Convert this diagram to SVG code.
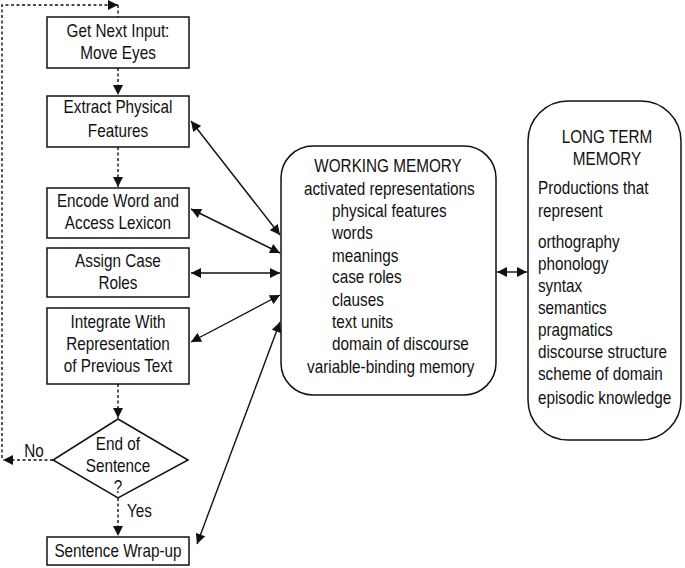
<svg xmlns="http://www.w3.org/2000/svg" width="685" height="568" viewBox="0 0 685 568">
<style>
text{font-family:"Liberation Sans",Arial,sans-serif;font-size:18px;fill:#111}
.c{text-anchor:middle}
.box{fill:#fff;stroke:#111;stroke-width:1.5}
.ln{fill:none;stroke:#111;stroke-width:1.4}
.d{stroke-dasharray:3 2.5}
</style>
<defs>
<marker id="ah" viewBox="0 0 10 10" refX="10" refY="5" markerWidth="11" markerHeight="10" markerUnits="userSpaceOnUse" orient="auto-start-reverse"><path d="M0,0 L10,5 L0,10 Z" fill="#111"/></marker>
</defs>
<rect width="685" height="568" fill="#fff"/>
<g id="connectors">
<path class="ln d" d="M118,68 V95" marker-end="url(#ah)"/>
<path class="ln d" d="M118,147 V187" marker-end="url(#ah)"/>
<path class="ln d" d="M118,384 V418" marker-end="url(#ah)"/>
<path class="ln d" d="M118,498 V536" marker-end="url(#ah)"/>
<path class="ln d" d="M53,460 H3" marker-end="url(#ah)"/>
<path class="ln d" d="M2,458 V5 H118" marker-end="url(#ah)"/>
<path class="ln d" d="M118,5 V18"/>
<path class="ln" d="M191,121 L280,235" marker-start="url(#ah)" marker-end="url(#ah)"/>
<path class="ln" d="M191,209 L280,253" marker-start="url(#ah)" marker-end="url(#ah)"/>
<path class="ln" d="M191,273 H280" marker-start="url(#ah)" marker-end="url(#ah)"/>
<path class="ln" d="M191,342 L280,295" marker-start="url(#ah)" marker-end="url(#ah)"/>
<path class="ln" d="M197,544 L280,322" marker-start="url(#ah)" marker-end="url(#ah)"/>
<path class="ln" d="M497,272 H527" marker-start="url(#ah)" marker-end="url(#ah)"/>
<g transform="scale(0.85 1)">
<text x="40" y="457" class="c">No</text>
<text x="149.4" y="517">Yes</text>
</g>
</g>
<g id="get-next-input">
<rect class="box" x="47" y="17" width="142" height="51"/>
<g transform="scale(0.85 1)">
<text x="138.8" y="37" class="c">Get Next Input:</text>
<text x="138.8" y="59" class="c">Move Eyes</text>
</g>
</g>
<g id="extract">
<rect class="box" x="47" y="96" width="142" height="51"/>
<g transform="scale(0.85 1)">
<text x="138.8" y="113" class="c">Extract Physical</text>
<text x="138.8" y="137" class="c">Features</text>
</g>
</g>
<g id="encode">
<rect class="box" x="47" y="188" width="142" height="50"/>
<g transform="scale(0.85 1)">
<text x="138.8" y="207" class="c">Encode Word and</text>
<text x="138.8" y="229" class="c">Access Lexicon</text>
</g>
</g>
<g id="assign">
<rect class="box" x="47" y="248" width="142" height="49"/>
<g transform="scale(0.85 1)">
<text x="138.8" y="267" class="c">Assign Case</text>
<text x="138.8" y="289" class="c">Roles</text>
</g>
</g>
<g id="integrate">
<rect class="box" x="47" y="308" width="142" height="76"/>
<g transform="scale(0.85 1)">
<text x="138.8" y="328" class="c">Integrate With</text>
<text x="138.8" y="350" class="c">Representation</text>
<text x="138.8" y="372" class="c">of Previous Text</text>
</g>
</g>
<g id="end-of-sentence">
<path class="box" d="M118,419 L188,460 L118,498 L53,460 Z"/>
<g transform="scale(0.85 1)">
<text x="138.8" y="450" class="c">End of</text>
<text x="138.8" y="472" class="c">Sentence</text>
<text x="138.8" y="493" class="c">?</text>
</g>
</g>
<g id="wrap-up">
<rect class="box" x="47" y="537" width="142" height="28"/>
<g transform="scale(0.85 1)">
<text x="138.8" y="557" class="c">Sentence Wrap-up</text>
</g>
</g>
<g id="working-memory">
<rect class="box" x="281" y="146" width="215" height="249" rx="32"/>
<g transform="scale(0.85 1)">
<text x="456.5" y="172" class="c">WORKING MEMORY</text>
<text x="357.6" y="195">activated representations</text>
<text x="390.6" y="217">physical features</text>
<text x="390.6" y="239">words</text>
<text x="390.6" y="262">meanings</text>
<text x="390.6" y="283">case roles</text>
<text x="390.6" y="306">clauses</text>
<text x="390.6" y="328">text units</text>
<text x="390.6" y="350">domain of discourse</text>
<text x="361.2" y="373">variable-binding memory</text>
</g>
</g>
<g id="long-term-memory">
<rect class="box" x="528" y="101" width="153" height="339" rx="40"/>
<g transform="scale(0.85 1)">
<text x="714.1" y="143" class="c">LONG TERM</text>
<text x="714.1" y="165" class="c">MEMORY</text>
<text x="632.9" y="194">Productions that</text>
<text x="632.9" y="217">represent</text>
<text x="632.9" y="248">orthography</text>
<text x="632.9" y="270">phonology</text>
<text x="632.9" y="292">syntax</text>
<text x="632.9" y="314">semantics</text>
<text x="632.9" y="336">pragmatics</text>
<text x="632.9" y="358">discourse structure</text>
<text x="632.9" y="380">scheme of domain</text>
<text x="632.9" y="404">episodic knowledge</text>
</g>
</g>
</svg>
